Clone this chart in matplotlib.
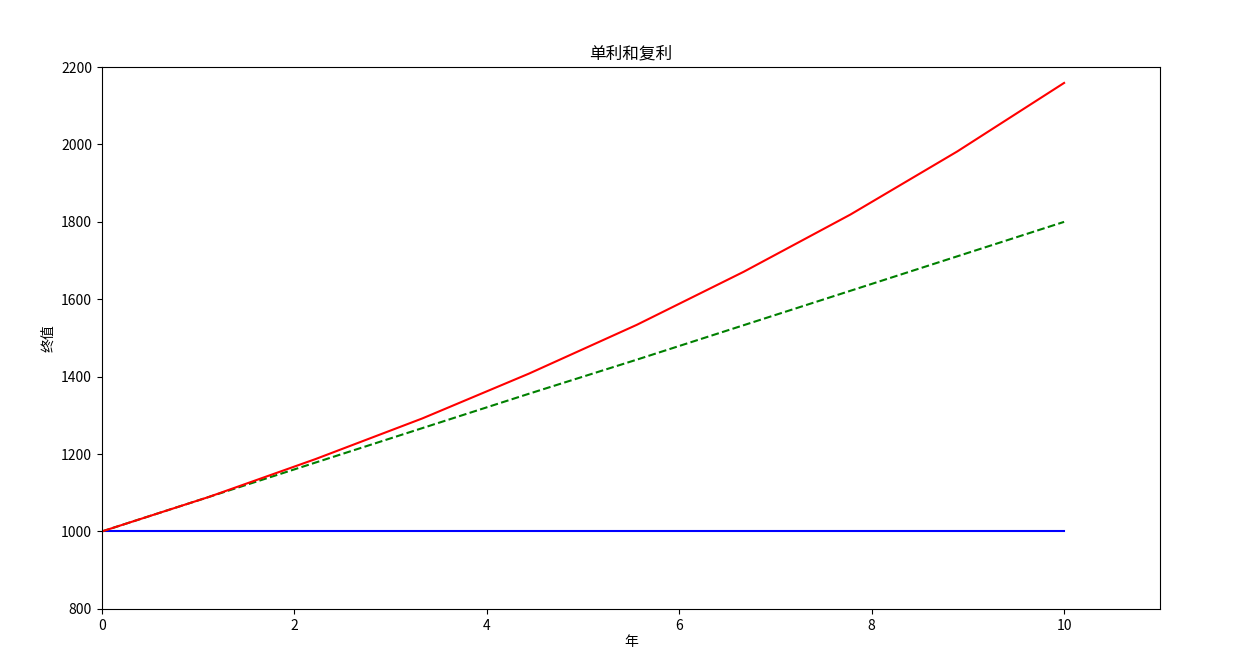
import matplotlib
matplotlib.use('Agg')
import matplotlib.pyplot as plt

plt.rcParams['font.family'] = ['Noto Sans CJK SC', 'DejaVu Sans']
plt.rcParams['axes.unicode_minus'] = False

# years (10 points from 0 to 10)
years = [0, 1.11, 2.22, 3.33, 4.44, 5.56, 6.67, 7.78, 8.89, 10]
# principal only
principal = [1000, 1000, 1000, 1000, 1000, 1000, 1000, 1000, 1000, 1000]
# simple interest
simple = [1000, 1089, 1178, 1267, 1356, 1444, 1533, 1622, 1711, 1800]
# compound interest
compound = [1000, 1089, 1187, 1292, 1408, 1534, 1671, 1819, 1982, 2159]

fig = plt.figure(figsize=(12.41, 6.64), dpi=100)
ax = fig.add_subplot(111)
fig.subplots_adjust(left=0.082, right=0.935, top=0.899, bottom=0.083)

ax.plot(years, principal, color='blue')
ax.plot(years, simple, color='green', linestyle='--')
ax.plot(years, compound, color='red')

ax.set_xlim(0, 11)
ax.set_ylim(800, 2200)
ax.set_title('单利和复利')
ax.set_xlabel('年', labelpad=2)
ax.set_ylabel('终值')

plt.savefig('out.png')
plt.close()
